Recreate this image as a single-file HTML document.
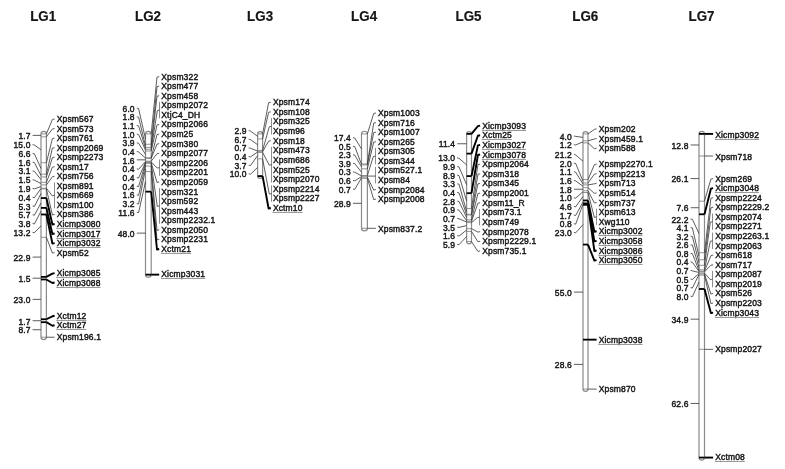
<!DOCTYPE html>
<html><head><meta charset="utf-8"><style>
html,body{margin:0;padding:0;background:#fff;overflow:hidden;}
svg{display:block;}
text{font-family:"Liberation Sans",Arial,sans-serif;fill:#161616;stroke:#161616;stroke-width:0.42px;}
.t{font-size:14px;font-weight:bold;stroke-width:0.2px;}
.r{font-size:8.5px;letter-spacing:0.15px;}
.ul{stroke:#8f8f8f;stroke-width:0.9;}
.l{font-size:8.5px;text-anchor:end;letter-spacing:0.1px;}
.bar{fill:#fff;stroke:#8a8a8a;stroke-width:1.2;}
.lt{stroke:#777;stroke-width:0.8;}
.lk{stroke:#000;stroke-width:1.8;}
.ct{fill:none;stroke:#333;stroke-width:0.8;}
.ck{fill:none;stroke:#000;stroke-width:1.9;stroke-linejoin:round;}
.cl{fill:none;stroke:#333;stroke-width:0.8;}
.gb{stroke:#8c8c8c;stroke-width:1;}
</style></head><body>
<svg width="785" height="469" viewBox="0 0 785 469">
<text class="t" transform="translate(30.2,0) scale(0.955,1)" x="0" y="20.6">LG1</text>
<path class="bar" d="M41 133.9 V337.23 A2.7 2.43 0 0 0 46.4 337.23 V133.9 A2.7 2.43 0 0 0 41 133.9 Z"/>
<line class="lt" x1="41" x2="46.4" y1="133.9" y2="133.9"/>
<line class="lt" x1="41" x2="46.4" y1="136.84" y2="136.84"/>
<line class="lt" x1="41" x2="46.4" y1="162.77" y2="162.77"/>
<line class="lt" x1="41" x2="46.4" y1="174.19" y2="174.19"/>
<line class="lt" x1="41" x2="46.4" y1="176.95" y2="176.95"/>
<line class="lt" x1="41" x2="46.4" y1="182.31" y2="182.31"/>
<line class="lt" x1="41" x2="46.4" y1="184.91" y2="184.91"/>
<line class="lt" x1="41" x2="46.4" y1="188.19" y2="188.19"/>
<line class="lt" x1="41" x2="46.4" y1="188.88" y2="188.88"/>
<line class="lk" x1="41" x2="46.4" y1="198.05" y2="198.05"/>
<line class="lk" x1="41" x2="46.4" y1="207.9" y2="207.9"/>
<line class="lk" x1="41" x2="46.4" y1="214.47" y2="214.47"/>
<line class="lt" x1="41" x2="46.4" y1="237.29" y2="237.29"/>
<line class="lk" x1="41" x2="46.4" y1="276.89" y2="276.89"/>
<line class="lk" x1="41" x2="46.4" y1="279.48" y2="279.48"/>
<line class="lk" x1="41" x2="46.4" y1="319.25" y2="319.25"/>
<line class="lk" x1="41" x2="46.4" y1="322.19" y2="322.19"/>
<line class="lt" x1="41" x2="46.4" y1="337.23" y2="337.23"/>
<polyline class="ct" points="46.4,133.9 52.4,119.5 54.6,119"/>
<polyline class="ct" points="46.4,136.84 52.4,129.04 54.6,128.54"/>
<polyline class="ct" points="46.4,162.77 52.4,138.59 54.6,138.09"/>
<polyline class="ct" points="46.4,174.19 52.4,148.13 54.6,147.63"/>
<polyline class="ct" points="46.4,176.95 52.4,157.67 54.6,157.17"/>
<polyline class="ct" points="46.4,182.31 52.4,167.21 54.6,166.71"/>
<polyline class="ct" points="46.4,184.91 52.4,176.76 54.6,176.26"/>
<line class="gb" x1="54.5" x2="54.5" y1="182.4" y2="208.29"/>
<polyline class="ct" points="46.4,188.19 52.3,195.84 54.5,195.34"/>
<polyline class="ct" points="46.4,188.88 52.4,214.93 54.6,214.43"/>
<polyline class="ck" points="46.4,198.05 52.4,224.47 54.6,223.97"/>
<polyline class="ck" points="46.4,207.9 52.4,234.01 54.6,233.51"/>
<polyline class="ck" points="46.4,214.47 52.4,243.56 54.6,243.06"/>
<polyline class="ct" points="46.4,237.29 52.4,253.1 54.6,252.6"/>
<polyline class="ck" points="46.4,276.89 52.4,273.6 54.6,273.1"/>
<polyline class="ck" points="46.4,279.48 52.4,283 54.6,282.5"/>
<polyline class="ck" points="46.4,319.25 52.4,316.3 54.6,315.8"/>
<polyline class="ck" points="46.4,322.19 52.4,325.7 54.6,325.2"/>
<polyline class="ct" points="46.4,337.23 54.6,337.23"/>
<text class="r" x="56.7" y="122">Xpsm567</text>
<text class="r" x="56.7" y="131.54">Xpsm573</text>
<text class="r" x="56.7" y="141.09">Xpsm761</text>
<text class="r" x="56.7" y="150.63">Xpsmp2069</text>
<text class="r" x="56.7" y="160.17">Xpsmp2273</text>
<text class="r" x="56.7" y="169.71">Xpsm17</text>
<text class="r" x="56.7" y="179.26">Xpsm756</text>
<text class="r" x="56.7" y="188.8">Xpsm891</text>
<text class="r" x="56.7" y="198.34">Xpsm669</text>
<text class="r" x="56.7" y="207.89">Xpsm100</text>
<text class="r" x="56.7" y="217.43">Xpsm386</text>
<text class="r" x="56.7" y="226.97">Xicmp3080</text>
<line class="ul" x1="56.3" x2="100.57" y1="228.5" y2="228.5"/>
<text class="r" x="56.7" y="236.51">Xicmp3017</text>
<line class="ul" x1="56.3" x2="100.57" y1="238.5" y2="238.5"/>
<text class="r" x="56.7" y="246.06">Xicmp3032</text>
<line class="ul" x1="56.3" x2="100.57" y1="247.5" y2="247.5"/>
<text class="r" x="56.7" y="255.6">Xpsm52</text>
<text class="r" x="56.7" y="276.1">Xicmp3085</text>
<line class="ul" x1="56.3" x2="100.57" y1="277.5" y2="277.5"/>
<text class="r" x="56.7" y="285.5">Xicmp3088</text>
<line class="ul" x1="56.3" x2="100.57" y1="287.5" y2="287.5"/>
<text class="r" x="56.7" y="318.8">Xctm12</text>
<line class="ul" x1="56.3" x2="86.42" y1="320.5" y2="320.5"/>
<text class="r" x="56.7" y="328.2">Xctm27</text>
<line class="ul" x1="56.3" x2="86.42" y1="329.5" y2="329.5"/>
<text class="r" x="56.7" y="340.1">Xpsm196.1</text>
<text class="l" x="30.5" y="139.4">1.7</text>
<polyline class="cl" points="32.6,135.37 41,135.37"/>
<text class="l" x="30.5" y="148.16">15.0</text>
<polyline class="cl" points="32.6,144.66 34.4,145.06 41,149.81"/>
<text class="l" x="30.5" y="156.93">6.6</text>
<polyline class="cl" points="32.6,153.43 34.4,153.83 41,168.48"/>
<text class="l" x="30.5" y="165.69">1.6</text>
<polyline class="cl" points="32.6,162.19 34.4,162.59 41,175.57"/>
<text class="l" x="30.5" y="174.45">3.1</text>
<polyline class="cl" points="32.6,170.95 34.4,171.35 41,179.63"/>
<text class="l" x="30.5" y="183.22">1.5</text>
<polyline class="cl" points="32.6,179.72 34.4,180.12 41,183.61"/>
<text class="l" x="30.5" y="191.98">1.9</text>
<polyline class="cl" points="32.6,188.48 34.4,188.88 41,186.55"/>
<text class="l" x="30.5" y="200.75">0.4</text>
<polyline class="cl" points="32.6,197.25 34.4,197.65 41,188.54"/>
<text class="l" x="30.5" y="209.51">5.3</text>
<polyline class="cl" points="32.6,206.01 34.4,206.41 41,193.46"/>
<text class="l" x="30.5" y="218.27">5.7</text>
<polyline class="cl" points="32.6,214.77 34.4,215.17 41,202.97"/>
<text class="l" x="30.5" y="227.04">3.8</text>
<polyline class="cl" points="32.6,223.54 34.4,223.94 41,211.19"/>
<text class="l" x="30.5" y="235.8">13.2</text>
<polyline class="cl" points="32.6,232.3 34.4,232.7 41,225.88"/>
<text class="l" x="30.5" y="260.8">22.9</text>
<polyline class="cl" points="32.6,257.09 41,257.09"/>
<text class="l" x="30.5" y="281.9">1.5</text>
<polyline class="cl" points="32.6,278.19 41,278.19"/>
<text class="l" x="30.5" y="303.1">23.0</text>
<polyline class="cl" points="32.6,299.37 41,299.37"/>
<text class="l" x="30.5" y="324.5">1.7</text>
<polyline class="cl" points="32.6,320.72 41,320.72"/>
<text class="l" x="30.5" y="333.2">8.7</text>
<polyline class="cl" points="32.6,329.71 41,329.71"/>
<text class="t" transform="translate(135,0) scale(0.955,1)" x="0" y="20.6">LG2</text>
<path class="bar" d="M145.5 133.9 V274.64 A2.85 2.56 0 0 0 151.2 274.64 V133.9 A2.85 2.56 0 0 0 145.5 133.9 Z"/>
<line class="lt" x1="145.5" x2="151.2" y1="133.9" y2="133.9"/>
<line class="lt" x1="145.5" x2="151.2" y1="144.27" y2="144.27"/>
<line class="lt" x1="145.5" x2="151.2" y1="147.39" y2="147.39"/>
<line class="lt" x1="145.5" x2="151.2" y1="149.29" y2="149.29"/>
<line class="lt" x1="145.5" x2="151.2" y1="151.02" y2="151.02"/>
<line class="lt" x1="145.5" x2="151.2" y1="157.76" y2="157.76"/>
<line class="lt" x1="145.5" x2="151.2" y1="158.45" y2="158.45"/>
<line class="lt" x1="145.5" x2="151.2" y1="161.22" y2="161.22"/>
<line class="lt" x1="145.5" x2="151.2" y1="161.91" y2="161.91"/>
<line class="lt" x1="145.5" x2="151.2" y1="162.6" y2="162.6"/>
<line class="lt" x1="145.5" x2="151.2" y1="163.29" y2="163.29"/>
<line class="lt" x1="145.5" x2="151.2" y1="166.06" y2="166.06"/>
<line class="lt" x1="145.5" x2="151.2" y1="171.59" y2="171.59"/>
<line class="lk" x1="145.5" x2="151.2" y1="191.65" y2="191.65"/>
<line class="lk" x1="145.5" x2="151.2" y1="274.64" y2="274.64"/>
<polyline class="ct" points="151.2,133.9 157,77.1 159.2,76.6"/>
<polyline class="ct" points="151.2,144.27 157,86.68 159.2,86.18"/>
<polyline class="ct" points="151.2,147.39 157,96.26 159.2,95.76"/>
<line class="gb" x1="159.5" x2="159.5" y1="101.93" y2="118.31"/>
<polyline class="ct" points="151.2,149.29 157.3,110.62 159.5,110.12"/>
<polyline class="ct" points="151.2,151.02 157,124.99 159.2,124.49"/>
<polyline class="ct" points="151.2,157.76 157,134.57 159.2,134.07"/>
<polyline class="ct" points="151.2,158.45 157,144.14 159.2,143.64"/>
<polyline class="ct" points="151.2,161.22 157,153.72 159.2,153.22"/>
<line class="gb" x1="159.5" x2="159.5" y1="159.4" y2="175.78"/>
<polyline class="ct" points="151.2,161.91 157.3,168.09 159.5,167.59"/>
<polyline class="ct" points="151.2,162.6 157,182.46 159.2,181.96"/>
<line class="gb" x1="159.5" x2="159.5" y1="188.13" y2="223.67"/>
<polyline class="ct" points="151.2,163.29 157.3,206.4 159.5,205.9"/>
<polyline class="ct" points="151.2,166.06 157,230.34 159.2,229.84"/>
<polyline class="ct" points="151.2,171.59 157,239.92 159.2,239.42"/>
<polyline class="ck" points="151.2,191.65 157,249.5 159.2,249"/>
<polyline class="ck" points="151.2,274.64 159.2,274.64"/>
<text class="r" x="161.3" y="79.6">Xpsm322</text>
<text class="r" x="161.3" y="89.18">Xpsm477</text>
<text class="r" x="161.3" y="98.76">Xpsm458</text>
<text class="r" x="161.3" y="108.33">Xpsmp2072</text>
<text class="r" x="161.3" y="117.91">XtjC4_DH</text>
<text class="r" x="161.3" y="127.49">Xpsmp2066</text>
<text class="r" x="161.3" y="137.07">Xpsm25</text>
<text class="r" x="161.3" y="146.64">Xpsm380</text>
<text class="r" x="161.3" y="156.22">Xpsmp2077</text>
<text class="r" x="161.3" y="165.8">Xpsmp2206</text>
<text class="r" x="161.3" y="175.38">Xpsmp2201</text>
<text class="r" x="161.3" y="184.96">Xpsmp2059</text>
<text class="r" x="161.3" y="194.53">Xpsm321</text>
<text class="r" x="161.3" y="204.11">Xpsm592</text>
<text class="r" x="161.3" y="213.69">Xpsm443</text>
<text class="r" x="161.3" y="223.27">Xpsmp2232.1</text>
<text class="r" x="161.3" y="232.84">Xpsmp2050</text>
<text class="r" x="161.3" y="242.42">Xpsmp2231</text>
<text class="r" x="161.3" y="252">Xctm21</text>
<line class="ul" x1="160.9" x2="191.02" y1="253.5" y2="253.5"/>
<text class="r" x="161.3" y="277.4">Xicmp3031</text>
<line class="ul" x1="160.9" x2="205.17" y1="278.5" y2="278.5"/>
<text class="l" x="134.7" y="111.6">6.0</text>
<polyline class="cl" points="136.8,108.1 138.6,108.5 145.5,139.09"/>
<text class="l" x="134.7" y="120.28">1.8</text>
<polyline class="cl" points="136.8,116.78 138.6,117.18 145.5,145.83"/>
<text class="l" x="134.7" y="128.97">1.1</text>
<polyline class="cl" points="136.8,125.47 138.6,125.87 145.5,148.34"/>
<text class="l" x="134.7" y="137.65">1.0</text>
<polyline class="cl" points="136.8,134.15 138.6,134.55 145.5,150.15"/>
<text class="l" x="134.7" y="146.33">3.9</text>
<polyline class="cl" points="136.8,142.83 138.6,143.23 145.5,154.39"/>
<text class="l" x="134.7" y="155.02">0.4</text>
<polyline class="cl" points="136.8,151.52 138.6,151.92 145.5,158.11"/>
<text class="l" x="134.7" y="163.7">1.6</text>
<polyline class="cl" points="136.8,159.84 145.5,159.84"/>
<text class="l" x="134.7" y="172.38">0.4</text>
<polyline class="cl" points="136.8,168.88 138.6,169.28 145.5,161.56"/>
<text class="l" x="134.7" y="181.07">0.4</text>
<polyline class="cl" points="136.8,177.57 138.6,177.97 145.5,162.26"/>
<text class="l" x="134.7" y="189.75">0.4</text>
<polyline class="cl" points="136.8,186.25 138.6,186.65 145.5,162.95"/>
<text class="l" x="134.7" y="198.43">1.6</text>
<polyline class="cl" points="136.8,194.93 138.6,195.33 145.5,164.68"/>
<text class="l" x="134.7" y="207.12">3.2</text>
<polyline class="cl" points="136.8,203.62 138.6,204.02 145.5,168.83"/>
<text class="l" x="134.7" y="215.8">11.6</text>
<polyline class="cl" points="136.8,212.3 138.6,212.7 145.5,181.62"/>
<text class="l" x="134.7" y="236.6">48.0</text>
<polyline class="cl" points="136.8,233.14 145.5,233.14"/>
<text class="t" transform="translate(247.1,0) scale(0.955,1)" x="0" y="20.6">LG3</text>
<path class="bar" d="M257.6 133.9 V176.09 A2.5 2.25 0 0 0 262.6 176.09 V133.9 A2.5 2.25 0 0 0 257.6 133.9 Z"/>
<line class="lt" x1="257.6" x2="262.6" y1="133.9" y2="133.9"/>
<line class="lt" x1="257.6" x2="262.6" y1="138.91" y2="138.91"/>
<line class="lt" x1="257.6" x2="262.6" y1="150.5" y2="150.5"/>
<line class="lt" x1="257.6" x2="262.6" y1="151.71" y2="151.71"/>
<line class="lt" x1="257.6" x2="262.6" y1="152.4" y2="152.4"/>
<line class="lt" x1="257.6" x2="262.6" y1="158.8" y2="158.8"/>
<line class="lk" x1="257.6" x2="262.6" y1="176.09" y2="176.09"/>
<polyline class="ct" points="262.6,133.9 268.6,102.7 270.8,102.2"/>
<polyline class="ct" points="262.6,138.91 268.6,112.32 270.8,111.82"/>
<line class="gb" x1="271.5" x2="271.5" y1="118.04" y2="134.45"/>
<polyline class="ct" points="262.6,150.5 269.3,126.75 271.5,126.25"/>
<polyline class="ct" points="262.6,151.71 268.6,141.17 270.8,140.67"/>
<line class="gb" x1="271.5" x2="271.5" y1="146.89" y2="182.55"/>
<polyline class="ct" points="262.6,152.4 269.3,165.22 271.5,164.72"/>
<line class="gb" x1="271.5" x2="271.5" y1="185.36" y2="201.78"/>
<polyline class="ct" points="262.6,158.8 269.3,194.07 271.5,193.57"/>
<polyline class="ck" points="262.6,176.09 268.6,208.5 270.8,208"/>
<text class="r" x="272.9" y="105.2">Xpsm174</text>
<text class="r" x="272.9" y="114.82">Xpsm108</text>
<text class="r" x="272.9" y="124.44">Xpsm325</text>
<text class="r" x="272.9" y="134.05">Xpsm96</text>
<text class="r" x="272.9" y="143.67">Xpsm18</text>
<text class="r" x="272.9" y="153.29">Xpsm473</text>
<text class="r" x="272.9" y="162.91">Xpsm686</text>
<text class="r" x="272.9" y="172.53">Xpsm525</text>
<text class="r" x="272.9" y="182.15">Xpsmp2070</text>
<text class="r" x="272.9" y="191.76">Xpsmp2214</text>
<text class="r" x="272.9" y="201.38">Xpsmp2227</text>
<text class="r" x="272.9" y="211">Xctm10</text>
<line class="ul" x1="272.5" x2="302.62" y1="212.5" y2="212.5"/>
<text class="l" x="246.6" y="134.1">2.9</text>
<polyline class="cl" points="248.7,130.6 250.5,131 257.6,136.41"/>
<text class="l" x="246.6" y="142.74">6.7</text>
<polyline class="cl" points="248.7,139.24 250.5,139.64 257.6,144.71"/>
<text class="l" x="246.6" y="151.38">0.7</text>
<polyline class="cl" points="248.7,147.88 250.5,148.28 257.6,151.1"/>
<text class="l" x="246.6" y="160.02">0.4</text>
<polyline class="cl" points="248.7,156.52 250.5,156.92 257.6,152.05"/>
<text class="l" x="246.6" y="168.66">3.7</text>
<polyline class="cl" points="248.7,165.16 250.5,165.56 257.6,155.6"/>
<text class="l" x="246.6" y="177.3">10.0</text>
<polyline class="cl" points="248.7,173.8 250.5,174.2 257.6,167.44"/>
<text class="t" transform="translate(351.1,0) scale(0.955,1)" x="0" y="20.6">LG4</text>
<path class="bar" d="M361.5 133.9 V228.3 A2.95 2.65 0 0 0 367.4 228.3 V133.9 A2.95 2.65 0 0 0 361.5 133.9 Z"/>
<line class="lt" x1="361.5" x2="367.4" y1="133.9" y2="133.9"/>
<line class="lt" x1="361.5" x2="367.4" y1="163.98" y2="163.98"/>
<line class="lt" x1="361.5" x2="367.4" y1="164.85" y2="164.85"/>
<line class="lt" x1="361.5" x2="367.4" y1="168.83" y2="168.83"/>
<line class="lt" x1="361.5" x2="367.4" y1="175.57" y2="175.57"/>
<line class="lt" x1="361.5" x2="367.4" y1="176.09" y2="176.09"/>
<line class="lt" x1="361.5" x2="367.4" y1="177.12" y2="177.12"/>
<line class="lt" x1="361.5" x2="367.4" y1="178.34" y2="178.34"/>
<line class="lt" x1="361.5" x2="367.4" y1="228.3" y2="228.3"/>
<polyline class="ct" points="367.4,133.9 373.7,113.5 375.9,113"/>
<polyline class="ct" points="367.4,163.98 373.7,123.07 375.9,122.57"/>
<polyline class="ct" points="367.4,164.85 373.7,132.63 375.9,132.13"/>
<polyline class="ct" points="367.4,168.83 373.7,142.2 375.9,141.7"/>
<line class="gb" x1="375.5" x2="375.5" y1="147.87" y2="164.23"/>
<polyline class="ct" points="367.4,175.57 373.3,156.55 375.5,156.05"/>
<line class="gb" x1="375.5" x2="375.5" y1="167" y2="183.37"/>
<polyline class="ct" points="367.4,176.09 375.5,176.09"/>
<polyline class="ct" points="367.4,177.12 373.7,190.03 375.9,189.53"/>
<polyline class="ct" points="367.4,178.34 373.7,199.6 375.9,199.1"/>
<polyline class="ct" points="367.4,228.3 375.9,228.3"/>
<text class="r" x="378" y="116">Xpsm1003</text>
<text class="r" x="378" y="125.57">Xpsm716</text>
<text class="r" x="378" y="135.13">Xpsm1007</text>
<text class="r" x="378" y="144.7">Xpsm265</text>
<text class="r" x="378" y="154.27">Xpsm305</text>
<text class="r" x="378" y="163.83">Xpsm344</text>
<text class="r" x="378" y="173.4">Xpsm527.1</text>
<text class="r" x="378" y="182.97">Xpsm84</text>
<text class="r" x="378" y="192.53">Xpsmp2084</text>
<text class="r" x="378" y="202.1">Xpsmp2008</text>
<text class="r" x="378" y="231.6">Xpsm837.2</text>
<text class="l" x="350.9" y="141.1">17.4</text>
<polyline class="cl" points="353,137.6 354.8,138 361.5,148.94"/>
<text class="l" x="350.9" y="149.67">0.5</text>
<polyline class="cl" points="353,146.17 354.8,146.57 361.5,164.42"/>
<text class="l" x="350.9" y="158.23">2.3</text>
<polyline class="cl" points="353,154.73 354.8,155.13 361.5,166.84"/>
<text class="l" x="350.9" y="166.8">3.9</text>
<polyline class="cl" points="353,163.3 354.8,163.7 361.5,172.2"/>
<text class="l" x="350.9" y="175.37">0.3</text>
<polyline class="cl" points="353,171.87 354.8,172.27 361.5,175.83"/>
<text class="l" x="350.9" y="183.93">0.6</text>
<polyline class="cl" points="353,180.43 354.8,180.83 361.5,176.61"/>
<text class="l" x="350.9" y="192.5">0.7</text>
<polyline class="cl" points="353,189 354.8,189.4 361.5,177.73"/>
<text class="l" x="350.9" y="207">28.9</text>
<polyline class="cl" points="353,203.32 361.5,203.32"/>
<text class="t" transform="translate(455.5,0) scale(0.955,1)" x="0" y="20.6">LG5</text>
<path class="bar" d="M466.6 133.9 V241.62 A2.45 2.2 0 0 0 471.5 241.62 V133.9 A2.45 2.2 0 0 0 466.6 133.9 Z"/>
<line class="lk" x1="466.6" x2="471.5" y1="133.9" y2="133.9"/>
<line class="lk" x1="466.6" x2="471.5" y1="153.61" y2="153.61"/>
<line class="lk" x1="466.6" x2="471.5" y1="176.09" y2="176.09"/>
<line class="lk" x1="466.6" x2="471.5" y1="193.2" y2="193.2"/>
<line class="lt" x1="466.6" x2="471.5" y1="208.59" y2="208.59"/>
<line class="lt" x1="466.6" x2="471.5" y1="214.3" y2="214.3"/>
<line class="lt" x1="466.6" x2="471.5" y1="214.99" y2="214.99"/>
<line class="lt" x1="466.6" x2="471.5" y1="219.83" y2="219.83"/>
<line class="lt" x1="466.6" x2="471.5" y1="221.39" y2="221.39"/>
<line class="lt" x1="466.6" x2="471.5" y1="222.6" y2="222.6"/>
<line class="lt" x1="466.6" x2="471.5" y1="228.65" y2="228.65"/>
<line class="lt" x1="466.6" x2="471.5" y1="231.42" y2="231.42"/>
<line class="lt" x1="466.6" x2="471.5" y1="241.62" y2="241.62"/>
<polyline class="ck" points="471.5,133.9 477.9,126.1 480.1,125.6"/>
<polyline class="ck" points="471.5,153.61 477.9,135.74 480.1,135.24"/>
<polyline class="ck" points="471.5,176.09 477.9,145.38 480.1,144.88"/>
<polyline class="ck" points="471.5,193.2 477.9,155.02 480.1,154.52"/>
<polyline class="ct" points="471.5,208.59 477.9,164.65 480.1,164.15"/>
<polyline class="ct" points="471.5,214.3 477.9,174.29 480.1,173.79"/>
<polyline class="ct" points="471.5,214.99 477.9,183.93 480.1,183.43"/>
<polyline class="ct" points="471.5,219.83 477.9,193.57 480.1,193.07"/>
<polyline class="ct" points="471.5,221.39 477.9,203.21 480.1,202.71"/>
<line class="gb" x1="479.5" x2="479.5" y1="208.95" y2="225.38"/>
<polyline class="ct" points="471.5,222.6 477.3,217.67 479.5,217.17"/>
<polyline class="ct" points="471.5,228.65 477.9,232.12 480.1,231.62"/>
<polyline class="ct" points="471.5,231.42 477.9,241.76 480.1,241.26"/>
<polyline class="ct" points="471.5,241.62 477.9,251.4 480.1,250.9"/>
<text class="r" x="482.2" y="128.6">Xicmp3093</text>
<line class="ul" x1="481.8" x2="526.07" y1="130.5" y2="130.5"/>
<text class="r" x="482.2" y="138.24">Xctm25</text>
<line class="ul" x1="481.8" x2="511.92" y1="139.5" y2="139.5"/>
<text class="r" x="482.2" y="147.88">Xicmp3027</text>
<line class="ul" x1="481.8" x2="526.07" y1="149.5" y2="149.5"/>
<text class="r" x="482.2" y="157.52">Xicmp3078</text>
<line class="ul" x1="481.8" x2="526.07" y1="159.5" y2="159.5"/>
<text class="r" x="482.2" y="167.15">Xpsmp2064</text>
<text class="r" x="482.2" y="176.79">Xpsm318</text>
<text class="r" x="482.2" y="186.43">Xpsm345</text>
<text class="r" x="482.2" y="196.07">Xpsmp2001</text>
<text class="r" x="482.2" y="205.71">Xpsm11_R</text>
<text class="r" x="482.2" y="215.35">Xpsm73.1</text>
<text class="r" x="482.2" y="224.98">Xpsm749</text>
<text class="r" x="482.2" y="234.62">Xpsmp2078</text>
<text class="r" x="482.2" y="244.26">Xpsmp2229.1</text>
<text class="r" x="482.2" y="253.9">Xpsm735.1</text>
<text class="l" x="455.1" y="147.3">11.4</text>
<polyline class="cl" points="457.2,143.76 466.6,143.76"/>
<text class="l" x="455.1" y="161.4">13.0</text>
<polyline class="cl" points="457.2,157.9 459,158.3 466.6,164.85"/>
<text class="l" x="455.1" y="170.04">9.9</text>
<polyline class="cl" points="457.2,166.54 459,166.94 466.6,184.65"/>
<text class="l" x="455.1" y="178.68">8.9</text>
<polyline class="cl" points="457.2,175.18 459,175.58 466.6,200.9"/>
<text class="l" x="455.1" y="187.32">3.3</text>
<polyline class="cl" points="457.2,183.82 459,184.22 466.6,211.45"/>
<text class="l" x="455.1" y="195.96">0.4</text>
<polyline class="cl" points="457.2,192.46 459,192.86 466.6,214.64"/>
<text class="l" x="455.1" y="204.6">2.8</text>
<polyline class="cl" points="457.2,201.1 459,201.5 466.6,217.41"/>
<text class="l" x="455.1" y="213.24">0.9</text>
<polyline class="cl" points="457.2,209.74 459,210.14 466.6,220.61"/>
<text class="l" x="455.1" y="221.88">0.7</text>
<polyline class="cl" points="457.2,218.38 459,218.78 466.6,221.99"/>
<text class="l" x="455.1" y="230.52">3.5</text>
<polyline class="cl" points="457.2,227.02 459,227.42 466.6,225.62"/>
<text class="l" x="455.1" y="239.16">1.6</text>
<polyline class="cl" points="457.2,235.66 459,236.06 466.6,230.03"/>
<text class="l" x="455.1" y="247.8">5.9</text>
<polyline class="cl" points="457.2,244.3 459,244.7 466.6,236.52"/>
<text class="t" transform="translate(572.3,0) scale(0.955,1)" x="0" y="20.6">LG6</text>
<path class="bar" d="M583 133.9 V389.1 A2.5 2.25 0 0 0 588 389.1 V133.9 A2.5 2.25 0 0 0 583 133.9 Z"/>
<line class="lt" x1="583" x2="588" y1="133.9" y2="133.9"/>
<line class="lt" x1="583" x2="588" y1="140.82" y2="140.82"/>
<line class="lt" x1="583" x2="588" y1="142.89" y2="142.89"/>
<line class="lt" x1="583" x2="588" y1="179.55" y2="179.55"/>
<line class="lt" x1="583" x2="588" y1="183" y2="183"/>
<line class="lt" x1="583" x2="588" y1="184.91" y2="184.91"/>
<line class="lt" x1="583" x2="588" y1="187.67" y2="187.67"/>
<line class="lt" x1="583" x2="588" y1="190.78" y2="190.78"/>
<line class="lt" x1="583" x2="588" y1="192.51" y2="192.51"/>
<line class="lk" x1="583" x2="588" y1="200.47" y2="200.47"/>
<line class="lk" x1="583" x2="588" y1="203.41" y2="203.41"/>
<line class="lk" x1="583" x2="588" y1="204.79" y2="204.79"/>
<line class="lk" x1="583" x2="588" y1="244.56" y2="244.56"/>
<line class="lk" x1="583" x2="588" y1="339.65" y2="339.65"/>
<line class="lt" x1="583" x2="588" y1="389.1" y2="389.1"/>
<polyline class="ct" points="588,133.9 594.4,129.4 596.6,128.9"/>
<polyline class="ct" points="588,140.82 594.4,139 596.6,138.5"/>
<polyline class="ct" points="588,142.89 594.4,148.7 596.6,148.2"/>
<polyline class="ct" points="588,179.55 594.4,164.6 596.6,164.1"/>
<polyline class="ct" points="588,183 594.4,174.2 596.6,173.7"/>
<polyline class="ct" points="588,184.91 594.4,183.8 596.6,183.3"/>
<polyline class="ct" points="588,187.67 594.4,193.4 596.6,192.9"/>
<polyline class="ct" points="588,190.78 594.4,203 596.6,202.5"/>
<line class="gb" x1="596.5" x2="596.5" y1="208.7" y2="225.1"/>
<polyline class="ct" points="588,192.51 594.3,217.4 596.5,216.9"/>
<polyline class="ck" points="588,200.47 594.4,231.8 596.6,231.3"/>
<polyline class="ck" points="588,203.41 594.4,241.4 596.6,240.9"/>
<polyline class="ck" points="588,204.79 594.4,251 596.6,250.5"/>
<polyline class="ck" points="588,244.56 594.4,260.6 596.6,260.1"/>
<polyline class="ck" points="588,339.65 596.6,339.65"/>
<polyline class="ct" points="588,389.1 596.6,389.1"/>
<text class="r" x="598.7" y="131.9">Xpsm202</text>
<text class="r" x="598.7" y="141.5">Xpsm459.1</text>
<text class="r" x="598.7" y="151.2">Xpsm588</text>
<text class="r" x="598.7" y="167.1">Xpsmp2270.1</text>
<text class="r" x="598.7" y="176.7">Xpsmp2213</text>
<text class="r" x="598.7" y="186.3">Xpsm713</text>
<text class="r" x="598.7" y="195.9">Xpsm514</text>
<text class="r" x="598.7" y="205.5">Xpsm737</text>
<text class="r" x="598.7" y="215.1">Xpsm613</text>
<text class="r" x="598.7" y="224.7">Xwg110</text>
<text class="r" x="598.7" y="234.3">Xicmp3002</text>
<line class="ul" x1="598.3" x2="642.57" y1="235.5" y2="235.5"/>
<text class="r" x="598.7" y="243.9">Xicmp3058</text>
<line class="ul" x1="598.3" x2="642.57" y1="245.5" y2="245.5"/>
<text class="r" x="598.7" y="253.5">Xicmp3086</text>
<line class="ul" x1="598.3" x2="642.57" y1="255.5" y2="255.5"/>
<text class="r" x="598.7" y="263.1">Xicmp3050</text>
<line class="ul" x1="598.3" x2="642.57" y1="264.5" y2="264.5"/>
<text class="r" x="598.7" y="342.5">Xicmp3038</text>
<line class="ul" x1="598.3" x2="642.57" y1="344.5" y2="344.5"/>
<text class="r" x="598.7" y="392.3">Xpsm870</text>
<text class="l" x="571.8" y="139.5">4.0</text>
<polyline class="cl" points="573.9,136 575.7,136.4 583,137.36"/>
<text class="l" x="571.8" y="148.1">1.2</text>
<polyline class="cl" points="573.9,144.6 575.7,145 583,141.85"/>
<text class="l" x="571.8" y="158">21.2</text>
<polyline class="cl" points="573.9,154.5 575.7,154.9 583,161.22"/>
<text class="l" x="571.8" y="166.66">2.0</text>
<polyline class="cl" points="573.9,163.16 575.7,163.56 583,181.27"/>
<text class="l" x="571.8" y="175.31">1.1</text>
<polyline class="cl" points="573.9,171.81 575.7,172.21 583,183.95"/>
<text class="l" x="571.8" y="183.97">1.6</text>
<polyline class="cl" points="573.9,180.47 575.7,180.87 583,186.29"/>
<text class="l" x="571.8" y="192.62">1.8</text>
<polyline class="cl" points="573.9,189.23 583,189.23"/>
<text class="l" x="571.8" y="201.28">1.0</text>
<polyline class="cl" points="573.9,197.78 575.7,198.18 583,191.65"/>
<text class="l" x="571.8" y="209.93">4.6</text>
<polyline class="cl" points="573.9,206.43 575.7,206.83 583,196.49"/>
<text class="l" x="571.8" y="218.59">1.7</text>
<polyline class="cl" points="573.9,215.09 575.7,215.49 583,201.94"/>
<text class="l" x="571.8" y="227.24">0.8</text>
<polyline class="cl" points="573.9,223.74 575.7,224.14 583,204.1"/>
<text class="l" x="571.8" y="235.9">23.0</text>
<polyline class="cl" points="573.9,232.4 575.7,232.8 583,224.67"/>
<text class="l" x="571.8" y="295.7">55.0</text>
<polyline class="cl" points="573.9,292.1 583,292.1"/>
<text class="l" x="571.8" y="368.1">28.6</text>
<polyline class="cl" points="573.9,364.38 583,364.38"/>
<text class="t" transform="translate(688.5,0) scale(0.955,1)" x="0" y="20.6">LG7</text>
<path class="bar" d="M699 133.9 V457.57 A2.75 2.48 0 0 0 704.5 457.57 V133.9 A2.75 2.48 0 0 0 699 133.9 Z"/>
<line class="lk" x1="699" x2="704.5" y1="133.9" y2="133.9"/>
<line class="lt" x1="699" x2="704.5" y1="156.03" y2="156.03"/>
<line class="lt" x1="699" x2="704.5" y1="201.16" y2="201.16"/>
<line class="lk" x1="699" x2="704.5" y1="214.3" y2="214.3"/>
<line class="lt" x1="699" x2="704.5" y1="252.68" y2="252.68"/>
<line class="lt" x1="699" x2="704.5" y1="259.77" y2="259.77"/>
<line class="lt" x1="699" x2="704.5" y1="265.3" y2="265.3"/>
<line class="lt" x1="699" x2="704.5" y1="269.8" y2="269.8"/>
<line class="lt" x1="699" x2="704.5" y1="271.18" y2="271.18"/>
<line class="lt" x1="699" x2="704.5" y1="271.87" y2="271.87"/>
<line class="lt" x1="699" x2="704.5" y1="273.08" y2="273.08"/>
<line class="lt" x1="699" x2="704.5" y1="273.95" y2="273.95"/>
<line class="lt" x1="699" x2="704.5" y1="275.16" y2="275.16"/>
<line class="lk" x1="699" x2="704.5" y1="288.99" y2="288.99"/>
<line class="lt" x1="699" x2="704.5" y1="349.33" y2="349.33"/>
<line class="lk" x1="699" x2="704.5" y1="457.57" y2="457.57"/>
<polyline class="ck" points="704.5,133.9 713.1,133.9"/>
<polyline class="ct" points="704.5,156.03 713.1,156.03"/>
<polyline class="ct" points="704.5,201.16 710.9,179.1 713.1,178.6"/>
<polyline class="ck" points="704.5,214.3 710.9,188.67 713.1,188.17"/>
<polyline class="ct" points="704.5,252.68 710.9,198.24 713.1,197.74"/>
<polyline class="ct" points="704.5,259.77 710.9,207.81 713.1,207.31"/>
<line class="gb" x1="712.5" x2="712.5" y1="213.49" y2="229.86"/>
<polyline class="ct" points="704.5,265.3 710.3,222.17 712.5,221.67"/>
<line class="gb" x1="712.5" x2="712.5" y1="232.63" y2="249"/>
<polyline class="ct" points="704.5,269.8 710.3,241.31 712.5,240.81"/>
<polyline class="ct" points="704.5,271.18 710.9,255.67 713.1,255.17"/>
<polyline class="ct" points="704.5,271.87 710.9,265.24 713.1,264.74"/>
<line class="gb" x1="712.5" x2="712.5" y1="270.91" y2="287.29"/>
<polyline class="ct" points="704.5,273.08 710.3,279.6 712.5,279.1"/>
<polyline class="ct" points="704.5,273.95 710.9,293.96 713.1,293.46"/>
<polyline class="ct" points="704.5,275.16 710.9,303.53 713.1,303.03"/>
<polyline class="ck" points="704.5,288.99 710.9,313.1 713.1,312.6"/>
<polyline class="ct" points="704.5,349.33 713.1,349.33"/>
<polyline class="ck" points="704.5,457.57 713.1,457.57"/>
<text class="r" x="715.2" y="137.5">Xicmp3092</text>
<line class="ul" x1="714.8" x2="759.07" y1="139.5" y2="139.5"/>
<text class="r" x="715.2" y="160">Xpsm718</text>
<text class="r" x="715.2" y="181.6">Xpsm269</text>
<text class="r" x="715.2" y="191.17">Xicmp3048</text>
<line class="ul" x1="714.8" x2="759.07" y1="192.5" y2="192.5"/>
<text class="r" x="715.2" y="200.74">Xpsmp2224</text>
<text class="r" x="715.2" y="210.31">Xpsmp2229.2</text>
<text class="r" x="715.2" y="219.89">Xpsmp2074</text>
<text class="r" x="715.2" y="229.46">Xpsmp2271</text>
<text class="r" x="715.2" y="239.03">Xpsmp2263.1</text>
<text class="r" x="715.2" y="248.6">Xpsmp2063</text>
<text class="r" x="715.2" y="258.17">Xpsm618</text>
<text class="r" x="715.2" y="267.74">Xpsm717</text>
<text class="r" x="715.2" y="277.31">Xpsmp2087</text>
<text class="r" x="715.2" y="286.89">Xpsmp2019</text>
<text class="r" x="715.2" y="296.46">Xpsm526</text>
<text class="r" x="715.2" y="306.03">Xpsmp2203</text>
<text class="r" x="715.2" y="315.6">Xicmp3043</text>
<line class="ul" x1="714.8" x2="759.07" y1="317.5" y2="317.5"/>
<text class="r" x="715.2" y="352.2">Xpsmp2027</text>
<text class="r" x="715.2" y="460.2">Xctm08</text>
<line class="ul" x1="714.8" x2="744.92" y1="461.5" y2="461.5"/>
<text class="l" x="688.5" y="148.5">12.8</text>
<polyline class="cl" points="690.6,144.97 699,144.97"/>
<text class="l" x="688.5" y="182.1">26.1</text>
<polyline class="cl" points="690.6,178.59 699,178.59"/>
<text class="l" x="688.5" y="211.3">7.6</text>
<polyline class="cl" points="690.6,207.73 699,207.73"/>
<text class="l" x="688.5" y="222.5">22.2</text>
<polyline class="cl" points="690.6,219 692.4,219.4 699,233.49"/>
<text class="l" x="688.5" y="231.08">4.1</text>
<polyline class="cl" points="690.6,227.58 692.4,227.98 699,256.23"/>
<text class="l" x="688.5" y="239.66">3.2</text>
<polyline class="cl" points="690.6,236.16 692.4,236.56 699,262.54"/>
<text class="l" x="688.5" y="248.23">2.6</text>
<polyline class="cl" points="690.6,244.73 692.4,245.13 699,267.55"/>
<text class="l" x="688.5" y="256.81">0.8</text>
<polyline class="cl" points="690.6,253.31 692.4,253.71 699,270.49"/>
<text class="l" x="688.5" y="265.39">0.4</text>
<polyline class="cl" points="690.6,261.89 692.4,262.29 699,271.53"/>
<text class="l" x="688.5" y="273.97">0.7</text>
<polyline class="cl" points="690.6,270.47 692.4,270.87 699,272.48"/>
<text class="l" x="688.5" y="282.54">0.5</text>
<polyline class="cl" points="690.6,279.04 692.4,279.44 699,273.52"/>
<text class="l" x="688.5" y="291.12">0.7</text>
<polyline class="cl" points="690.6,287.62 692.4,288.02 699,274.55"/>
<text class="l" x="688.5" y="299.7">8.0</text>
<polyline class="cl" points="690.6,296.2 692.4,296.6 699,282.08"/>
<text class="l" x="688.5" y="322.9">34.9</text>
<polyline class="cl" points="690.6,319.16 699,319.16"/>
<text class="l" x="688.5" y="407.2">62.6</text>
<polyline class="cl" points="690.6,403.45 699,403.45"/>
</svg>
</body></html>
